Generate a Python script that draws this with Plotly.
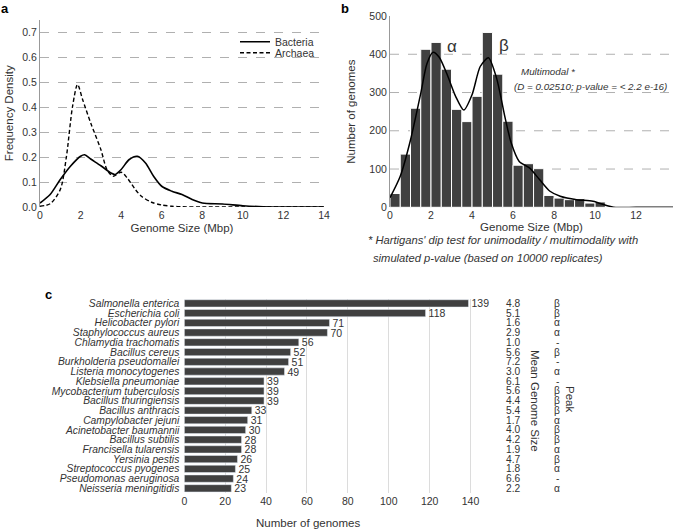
import plotly.graph_objects as go

FONT = "Liberation Sans, Arial, sans-serif"
TXT = "#333333"
BAR = "#404040"
GRID = "#b0b0b0"

# ---------------- Panel a: density curves ----------------
bact_x = [0, 0.5, 1, 1.5, 2, 2.2, 2.5, 3, 3.5, 3.7, 4, 4.4, 4.8, 5.2, 5.6, 6, 6.5, 7, 7.5, 8, 9, 10, 11, 12, 13, 14]
bact_y = [0.016, 0.05, 0.11, 0.163, 0.203, 0.209, 0.192, 0.165, 0.136, 0.13, 0.15, 0.19, 0.203, 0.176, 0.123,
          0.083, 0.063, 0.05, 0.03, 0.016, 0.012, 0.005, 0.001, 0.0, 0.0, 0.0]
arch_x = [0, 0.5, 1, 1.3, 1.6, 1.85, 2.1, 2.5, 3.0, 3.3, 3.6, 4.0, 4.3, 4.7, 5.0, 5.5, 6.0, 6.5, 7.0, 8, 10, 12, 14]
arch_y = [0.003, 0.013, 0.07, 0.2, 0.4, 0.49, 0.43, 0.336, 0.23, 0.15, 0.123, 0.139, 0.116, 0.07, 0.043, 0.019,
          0.008, 0.003, 0.001, 0.0, 0.0, 0.0, 0.0]
a_yticks = [0.0, 0.1, 0.2, 0.3, 0.4, 0.5, 0.6, 0.7]
a_xticks = [0, 2, 4, 6, 8, 10, 12, 14]

# ---------------- Panel b: histogram + density ----------------
bin_width = 0.5
hist_counts = [36, 139, 259, 413, 431, 361, 256, 224, 290, 457, 348, 225, 110, 114, 101, 31, 24, 20, 23, 11, 14]
bin_centers = [bin_width * (i + 0.5) for i in range(len(hist_counts))]
curve_x = [0, 0.5, 1.0, 1.5, 1.8, 2.1, 2.4, 2.8, 3.2, 3.6, 4.0, 4.4, 4.8, 5.2, 5.6, 5.9, 6.3, 6.8, 7.3, 7.8, 8.3,
           9.1, 9.9, 10.6, 10.9, 12, 13.8]
curve_y = [25, 81, 176, 298, 375, 405, 392, 345, 290, 254, 294, 368, 391, 337, 237, 170, 120, 103, 72, 42, 29,
           20, 16, 4, 0, 0, 0]
b_yticks = [0, 100, 200, 300, 400, 500]
b_grid = [100, 200, 300, 400]
b_xticks = [0, 2, 4, 6, 8, 10, 12]

# ---------------- Panel c: species ----------------
species = ["Salmonella enterica", "Escherichia coli", "Helicobacter pylori", "Staphylococcus aureus",
           "Chlamydia trachomatis", "Bacillus cereus", "Burkholderia pseudomallei", "Listeria monocytogenes",
           "Klebsiella pneumoniae", "Mycobacterium tuberculosis", "Bacillus thuringiensis", "Bacillus anthracis",
           "Campylobacter jejuni", "Acinetobacter baumannii", "Bacillus subtilis", "Francisella tularensis",
           "Yersinia pestis", "Streptococcus pyogenes", "Pseudomonas aeruginosa", "Neisseria meningitidis"]
n_genomes = [139, 118, 71, 70, 56, 52, 51, 49, 39, 39, 39, 33, 31, 30, 28, 28, 26, 25, 24, 23]
mean_size = ["4.8", "5.1", "1.6", "2.9", "1.0", "5.6", "7.2", "3.0", "6.1", "5.6", "4.4", "5.4", "1.7", "4.0",
             "4.2", "1.9", "4.7", "1.8", "6.6", "2.2"]
peak = ["β", "β", "α", "α", "-", "β", "-", "α", "-", "β", "β", "β", "α", "β", "β", "α", "β", "α", "-", "α"]
c_xticks = [0, 20, 40, 60, 80, 100, 120, 140]

W, H = 685, 531
px = lambda v: v / W
py = lambda v: 1 - v / H

fig = go.Figure()

fig.add_trace(go.Scatter(x=bact_x, y=bact_y, mode="lines", name="Bacteria", legend="legend",
                         line=dict(color="black", width=1.6, shape="spline", smoothing=0.8),
                         xaxis="x", yaxis="y"))
fig.add_trace(go.Scatter(x=arch_x, y=arch_y, mode="lines", name="Archaea", legend="legend2",
                         line=dict(color="black", width=1.4, dash="4px,2.5px", shape="spline", smoothing=0.8),
                         xaxis="x", yaxis="y"))

fig.add_trace(go.Bar(x=bin_centers, y=hist_counts, width=bin_width, showlegend=False,
                     marker=dict(color=BAR, line=dict(color="white", width=1)),
                     xaxis="x2", yaxis="y2"))
fig.add_trace(go.Scatter(x=curve_x, y=curve_y, mode="lines", showlegend=False,
                         line=dict(color="black", width=1.5, shape="spline", smoothing=0.7),
                         xaxis="x2", yaxis="y2"))

fig.add_trace(go.Bar(x=n_genomes, y=species, orientation="h", showlegend=False,
                     marker=dict(color=BAR), text=[str(v) for v in n_genomes],
                     textposition="outside", cliponaxis=False, constraintext="none",
                     textfont=dict(size=10.5, color=TXT, family=FONT),
                     xaxis="x3", yaxis="y3"))

axis_common = dict(tickfont=dict(size=10.5, color=TXT, family=FONT), ticks="", zeroline=False, automargin=False)
leg_common = dict(xanchor="left", yanchor="middle", bgcolor="rgba(0,0,0,0)",
                  font=dict(size=10.5, color=TXT, family=FONT), itemwidth=30)

fig.update_layout(
    width=W, height=H, margin=dict(l=0, r=0, t=0, b=0),
    paper_bgcolor="white", plot_bgcolor="white",
    font=dict(family=FONT, color=TXT),
    bargap=0.25,
    showlegend=True,
    legend=dict(x=px(235), y=py(41.7), **leg_common),
    legend2=dict(x=px(235), y=py(52.7), **leg_common),
    xaxis=dict(domain=[px(40), px(324)], range=[0, 14], tickvals=a_xticks, showgrid=False,
               title=dict(text="Genome Size (Mbp)", font=dict(size=11.5, color=TXT), standoff=4),
               anchor="y", **axis_common),
    yaxis=dict(domain=[py(207), py(19.5)], range=[0, 0.75], tickvals=a_yticks, tickformat=".1f",
               showgrid=True, gridcolor=GRID, griddash="dash", gridwidth=1,
               showline=True, linecolor="#999999", linewidth=1,
               title=dict(text="Frequency Density", font=dict(size=11.5, color=TXT), standoff=6),
               anchor="x", **axis_common),
    xaxis2=dict(domain=[px(390), px(673)], range=[0, 13.8], tickvals=b_xticks, showgrid=False,
                title=dict(text="Genome Size (Mbp)", font=dict(size=11.5, color=TXT), standoff=1),
                anchor="y2", **axis_common),
    yaxis2=dict(domain=[py(207.3), py(16)], range=[0, 500], tickvals=b_yticks, showgrid=False,
                showline=True, linecolor="#999999", linewidth=1,
                title=dict(text="Number of genomes", font=dict(size=11.5, color=TXT), standoff=11),
                anchor="x2", **axis_common),
    xaxis3=dict(domain=[px(184.3), px(482)], range=[0, 145.6], tickvals=c_xticks,
                showgrid=True, gridcolor="#dcdcdc", gridwidth=1, anchor="y3", **axis_common),
    yaxis3=dict(domain=[py(493.2), py(298.5)], range=[19.5, -0.5], type="category",
                categoryorder="array", categoryarray=species, tickmode="array", tickvals=species,
                ticktext=species, showgrid=False, automargin=False,
                tickfont=dict(size=10.3, color=TXT, family=FONT, style="italic"), ticks="",
                ticklabelstandoff=4, anchor="x3"),
)

# dashed grid for panel b (excluding 0 and 500)
for g in b_grid:
    fig.add_shape(type="line", xref="x2 domain", yref="y2", x0=0, x1=1, y0=g, y1=g,
                  line=dict(color=GRID, width=1, dash="dash"), layer="below")


def pa(text, x, y, size, xanchor="center", color=TXT, **kw):
    return dict(text=text, x=px(x), y=py(y), xref="paper", yref="paper", showarrow=False,
                xanchor=xanchor, yanchor="middle", font=dict(size=size, color=color, family=FONT, **kw))


ann = []
# panel labels
for lab, x, y in [("a", 4.5, 8), ("b", 344.5, 8), ("c", 48.5, 294.5)]:
    ann.append(pa(f"<b>{lab}</b>", x, y, 13, color="black"))
# alpha / beta in panel b
ann.append(pa("α", 452, 46, 17))
ann.append(pa("β", 504, 45, 17))
ann.append(pa("Multimodal *", 519, 72, 9.8, xanchor="left", style="italic"))
ann.append(pa("(D = 0.02510; p-value = < 2.2 e-16)", 512, 86, 9.8, xanchor="left", style="italic"))
ann.append(pa("* Hartigans' dip test for unimodality / multimodality with", 366, 240, 11.2,
              xanchor="left", style="italic"))
ann.append(pa("simulated p-value (based on 10000 replicates)", 371, 258, 11.2, xanchor="left", style="italic"))
# panel c extras
ann.append(pa("Number of genomes", 308, 522.5, 11.5))
for sp, m, p in zip(species, mean_size, peak):
    ann.append(dict(text=m, x=px(513), y=sp, xref="paper", yref="y3", showarrow=False,
                    xanchor="center", yanchor="middle", font=dict(size=10.2, color=TXT, family=FONT)))
    ann.append(dict(text=p, x=px(557), y=sp, xref="paper", yref="y3", showarrow=False,
                    xanchor="center", yanchor="middle", font=dict(size=10.2, color=TXT, family=FONT)))
a1 = pa("Mean Genome Size", 535, 401, 11.5)
a1["textangle"] = 90
ann.append(a1)
a2 = pa("Peak", 570.5, 398.5, 11.5)
a2["textangle"] = 90
ann.append(a2)
fig.update_layout(annotations=ann)

fig.write_html("out.html", config={"displayModeBar": False},
               post_script="document.body.style.margin='0px';document.body.style.overflow='hidden';")
